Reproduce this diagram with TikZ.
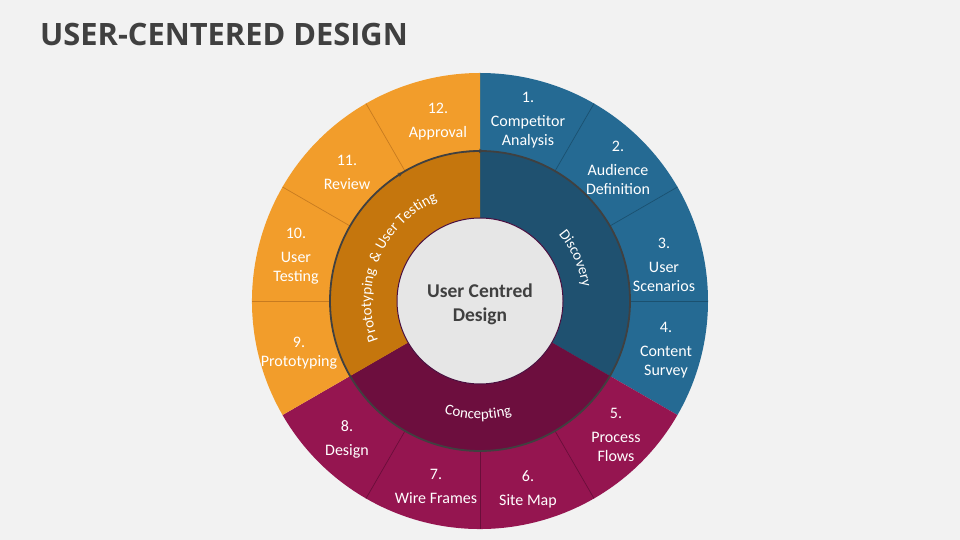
\documentclass[tikz,border=0pt]{standalone}
\usepackage{fontspec}
\setmainfont{Carlito}
\newfontfamily\titlefont{Open Sans}
\usetikzlibrary{decorations.text,arrows.meta}
\definecolor{bg}{HTML}{F2F2F2}
\definecolor{titlec}{HTML}{404040}
\definecolor{oblue}{HTML}{256A93}
\definecolor{iblue}{HTML}{1F5170}
\definecolor{dblue}{HTML}{1B5170}
\definecolor{omag}{HTML}{951550}
\definecolor{imag}{HTML}{6D0E3E}
\definecolor{dmag}{HTML}{6A0E3A}
\definecolor{oorange}{HTML}{F29D2B}
\definecolor{iorange}{HTML}{C5760D}
\definecolor{dorange}{HTML}{C77B20}
\definecolor{ringc}{HTML}{404040}
\definecolor{hubfill}{HTML}{E6E6E6}
\definecolor{hubline}{HTML}{4A1040}
\newcommand\ringfont{\fontsize{15}{17}\selectfont}
\begin{document}
\begin{tikzpicture}[x=1pt,y=1pt,
  lbl/.style={text=white, align=center, font=\fontsize{16}{19}\selectfont, inner sep=0pt},
  divider/.style={line width=0.7pt},
  ringtext/.style={decorate, decoration={text along path, text align=center, text color=white}}]
\fill[bg] (0,0) rectangle (960,540);
\useasboundingbox (0,0) rectangle (960,540);
\coordinate (C) at (480,239);
\node[anchor=base west, inner sep=0pt, text=titlec, font=\titlefont\bfseries\fontsize{30.8}{36}\selectfont] (title) at (40,494) {USER-CENTERED DESIGN};
% outer ring
\fill[oblue] (C) -- ++(90:228) arc[start angle=90, end angle=-30, radius=228] -- cycle;
\fill[omag] (C) -- ++(-30:228) arc[start angle=-30, end angle=-150, radius=228] -- cycle;
\fill[oorange] (C) -- ++(210:228) arc[start angle=210, end angle=90, radius=228] -- cycle;
\foreach \a in {60,30,0} \draw[divider, dblue, shift={(C)}] (\a:150) -- (\a:228);
\foreach \a in {-60,-90,-120} \draw[divider, dmag, shift={(C)}] (\a:150) -- (\a:228);
\foreach \a in {180,150,120} \draw[divider, dorange, shift={(C)}] (\a:150) -- (\a:228);
% middle ring
\fill[iblue] (C) -- ++(90:150) arc[start angle=90, end angle=-30, radius=150] -- cycle;
\fill[imag] (C) -- ++(-30:150) arc[start angle=-30, end angle=-150, radius=150] -- cycle;
\fill[iorange] (C) -- ++(210:150) arc[start angle=210, end angle=90, radius=150] -- cycle;
\draw[ringc, line width=1.8pt] (C) circle[radius=150];
\draw[ringc, line width=1.2pt, -{Stealth[length=5pt,width=4.5pt]}, shift={(C)}] (127:150) arc[start angle=127, end angle=121, radius=150];
\draw[ringc, line width=1.2pt, -{Stealth[length=5pt,width=4.5pt]}, shift={(C)}] (96:150) arc[start angle=96, end angle=88.5, radius=150];
% ring labels
\path[ringtext, decoration={text={|\ringfont|Discovery}}, shift={(C)}] (60:103) arc[start angle=60, end angle=-12, radius=103];
\path[ringtext, decoration={text={|\ringfont|Concepting}}, shift={(C)}] (-131:118) arc[start angle=-131, end angle=-51, radius=118];
\path[ringtext, decoration={text={|\ringfont|Prototyping{ }{ }{\&} User Testing}}, shift={(C)}] (217:109) arc[start angle=217, end angle=97, radius=109];
% hub
\node[circle, draw=hubline, line width=1pt, fill=hubfill, minimum size=166pt, inner sep=0pt] (hub) at (C) {};
\node[text=titlec, align=center, font=\bfseries\fontsize{19.5}{24}\selectfont, inner sep=0pt] (hubtext) at (480,236) {User Centred\\Design};
% outer labels
\node[lbl] (l1) at (528,420) {1.\\[5pt]Competitor\\Analysis};
\node[lbl] (l2) at (618,372) {2.\\[5pt]Audience\\Definition};
\node[lbl] (l3) at (664,275) {3.\\[5pt]User\\Scenarios};
\node[lbl] (l4) at (666,190) {4.\\[5pt]Content\\Survey};
\node[lbl] (l5) at (616,105) {5.\\[5pt]Process\\Flows};
\node[lbl] (l6) at (528,51) {6.\\[5pt]Site Map};
\node[lbl] (l7) at (436,54) {7.\\[5pt]Wire Frames};
\node[lbl] (l8) at (347,101) {8.\\[5pt]Design};
\node[lbl] (l9) at (299,187) {9.\\Prototyping};
\node[lbl] (l10) at (296,284) {10.\\[5pt]User\\Testing};
\node[lbl] (l11) at (347,368) {11.\\[5pt]Review};
\node[lbl] (l12) at (438,418) {12.\\[5pt]Approval};
\end{tikzpicture}
\end{document}
